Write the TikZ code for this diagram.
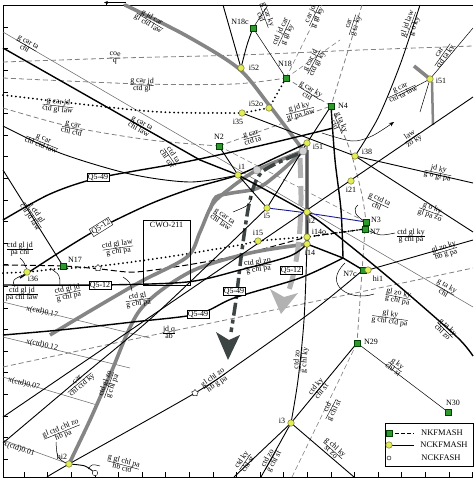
\documentclass[tikz,border=0pt]{standalone}
\usepackage{fontspec}
\setmainfont{Liberation Serif}
\usetikzlibrary{arrows.meta,shapes.geometric}
\newcommand{\rx}[2]{{\renewcommand{\arraystretch}{0.75}\setlength{\tabcolsep}{0pt}\begin{tabular}{c}#1\\\hline #2\end{tabular}}}
\definecolor{sqgreen}{HTML}{2E9A2E}
\definecolor{ycol}{HTML}{E2EE55}
\definecolor{gp}{HTML}{858585}
\definecolor{dgp}{HTML}{3C4444}
\definecolor{bl}{HTML}{1A1A90}
\tikzset{
 lb/.style={font=\fontsize{7.8}{8}\selectfont, inner sep=0.3pt},
 nm/.style={font=\fontsize{8}{8}\selectfont, inner sep=0.5pt},
 blk/.style={line width=0.9pt},
 thk/.style={line width=1.4pt},
 thn/.style={line width=0.5pt},
 tgray/.style={line width=0.55pt, draw=gray!85!black},
 gdash/.style={line width=0.8pt, draw=gray, dash pattern=on 5pt off 3pt},
 kdash/.style={line width=1pt, dash pattern=on 6pt off 3pt},
 dotl/.style={line width=2pt, dash pattern=on 0pt off 4.3pt, line cap=round},
 gpath/.style={line width=3.6pt, draw=gp},
 sq/.style={rectangle, draw=green!25!black, fill=sqgreen, minimum size=5.5pt, inner sep=0},
 yc/.style={circle, draw=olive!60!black, fill=ycol, minimum size=6.5pt, inner sep=0},
 oc/.style={circle, draw=black, fill=white, minimum size=5.5pt, inner sep=0},
 gc/.style={circle, draw=gray, fill=gray!35, minimum size=8pt, inner sep=0},
 qbox/.style={draw, fill=white, font=\fontsize{8}{8}\selectfont, inner sep=1pt},
 starm/.style={star, star points=5, draw, fill=white, minimum size=7pt, inner sep=0},
}
\begin{document}
\begin{tikzpicture}[x=1pt,y=-1pt]
\useasboundingbox (0,0) rectangle (474,479);
% frame
\draw[line width=0.8pt] (473,5) -- (3,5) -- (3,477) -- (473,477);
\foreach \k in {0,...,20} \draw[thn] (3,27+21.6*\k) -- (8,27+21.6*\k);
\foreach \k in {0,...,19} \draw[thn] (24+23.6*\k,477) -- (24+23.6*\k,472);
\draw[thn,-{Stealth[length=4pt,width=3pt]}] (126,2.5) -- (104,2.5);
\draw[thn] (106,2.5) -- (106,6);

% ---------- gray dashed lines
\draw[gdash] plot[smooth] coordinates {(3,62) (120,58) (240,55) (360,50) (473,46)};
\draw[gdash] plot[smooth] coordinates {(3,78) (142,84) (234,84) (286,78)};
\draw[gdash] plot[smooth] coordinates {(3,108) (72,127) (150,140) (219,146)};
\draw[gdash] (219,146) -- (331,106);
\draw[gdash,line width=0.6pt] (219,146) -- (366,222);
\draw[gdash] (286,78) -- (331,106);
\draw[gdash] (362,5) -- (331,106);
\draw[gdash] plot[smooth] coordinates {(331,106) (350,150) (362,195) (366,222)};
\draw[gdash] (365,229) -- (357,343);
\draw[gdash,line width=0.6pt] (357,343) -- (292,477);
\draw[gdash] plot[smooth] coordinates {(3,367) (120,342) (240,317) (360,292) (473,268)};
\draw[gdash,line width=0.6pt] (286,78) -- (322,5);
\draw[gdash,line width=0.6pt] (286,78) -- (340,40);

% ---------- thin gray lines
\draw[tgray] (3,32) -- (473,307);
\draw[tgray] (3,302) -- (150,338);
\draw[tgray] (3,337) -- (130,368);
\draw[tgray] (3,377) -- (97,405);
\draw[tgray] (3,440) -- (69,464);

% ---------- dotted lines
\draw[dotl] plot[smooth] coordinates {(3,95) (80,104) (160,112) (242,113)} -- (269,108) -- (286,78);
\draw[dotl] plot[smooth] coordinates {(3,273) (27,272) (57,269) (100,266) (167,257) (240,245) (258,241) (307,237)} -- (365,229);
\draw[kdash] plot[smooth] coordinates {(3,265) (63,266) (100,269) (135,272) (187,265) (240,255) (307,237)} -- (365,229);

% ---------- thick gray PT paths
\draw[gpath,line cap=round] plot[smooth] coordinates {(125,5) (185,35) (238,68) (269,105) (303,150)};
\draw[gpath] plot[smooth] coordinates {(50,335) (90,311) (140,282) (187,257) (200,232) (212,205) (228,190) (257,170) (303,151)};
\draw[gpath] plot[smooth] coordinates {(303,151) (280,172) (258,188) (232,193) (216,197) (210,210)};
\draw[gpath] plot[smooth] coordinates {(69,464) (90,420) (110,375) (140,310) (190,272) (250,253) (307,244)};
\draw[gpath] (307,244) -- (307,150);
\draw[gpath] (430,79) -- (414,66);
\draw[gpath,line width=2.5pt] (432,82) -- (433,125);
\draw[line width=5pt, draw=gray!60, dash pattern=on 20pt off 8pt] plot[smooth] coordinates {(300,158) (301,200) (299,240) (294,272) (288,293)};
\fill[gray!60] (270,289) -- (284,297) -- (298,293) -- (281,314) -- cycle;
\draw[line width=3.5pt, draw=dgp, dash pattern=on 13pt off 4pt on 4pt off 4pt] plot[smooth] coordinates {(298,154) (262,172) (250,200) (242,250) (236,300) (231,332)};
\fill[dgp] (216,332) -- (229,340) -- (240,335) -- (228,360) -- cycle;

% ---------- black lines
\draw[thk] (3,48) -- (200,160) -- (238,175);
\draw[thk] plot[smooth] coordinates {(238,175) (307,213) (343,240) (400,287) (457,337) (473,356)};
\draw[blk] plot[smooth] coordinates {(3,126) (60,153) (130,174) (190,182) (238,175)};
\draw[thk] plot[smooth] coordinates {(3,220) (50,194) (98,178) (180,163) (250,148) (313,133) (333,128)};
\draw[thk] plot[smooth] coordinates {(331,106) (335,160) (341,210) (343,258)};
\draw[thk] plot[smooth] coordinates {(343,258) (300,278) (234,298) (198,314) (133,322) (60,330) (3,335)};
\draw[thk] plot[smooth] coordinates {(20,278) (60,252) (100,228) (150,204) (193,188) (238,175) (275,158) (307,143)};
\draw[thk] plot[smooth] coordinates {(307,244) (290,256) (240,270) (187,282) (100,285) (3,285)};
\draw[thk] (307,244) -- (343,258) -- (363,270);
\draw[blk] (3,417) -- (473,97);
\draw[blk] plot[smooth] coordinates {(3,443) (80,378) (157,313) (267,208)};
\draw[blk] (267,208) -- (307,143);
\draw[blk] (238,175) -- (267,208);
\draw[blk] (219,146) -- (238,175);
\draw[blk] (3,170) -- (63,266);
\draw[blk] (331,106) -- (307,143);
\draw[blk] plot[smooth] coordinates {(307,143) (307,213) (307,244) (304,320) (298,380) (291,423)};
\draw[blk] plot[smooth] coordinates {(420,5) (400,65) (378,118) (355,156)};
\draw[blk] (242,113) -- (355,156) -- (473,183);
\draw[blk] (355,156) -- (473,232);
\draw[blk] plot[smooth] coordinates {(253,28) (247,45) (241,68)};
\draw[blk] (223,5) -- (241,68);
\draw[thn] (253,28) -- (286,78);
\draw[thn] (253,28) -- (268,5);
\draw[blk] plot[smooth] coordinates {(47,477) (69,464) (195,393) (240,363) (314,310) (363,270)};
\draw[blk] (368,270) -- (473,240);
\draw[blk] (291,423) -- (357,343);
\draw[thn] (357,343) -- (448,412);
\draw[blk] (291,423) -- (234,477);
\draw[blk] (291,423) -- (261,477);
\draw[blk] (291,423) -- (354,477);
\draw[blk] plot[smooth] coordinates {(69,464) (85,466) (95,473)};
\draw[draw=bl, line width=0.9pt] plot[smooth] coordinates {(267,208) (307,213) (366,222)};
\draw[thn] (430,79) -- (473,28);
\draw[thn] (430,79) -- (398,96);
\draw[thn] (430,79) -- (420,112);
\draw[thn,-{Stealth[length=5pt,width=4pt]}] plot[smooth] coordinates {(322,133) (352,141) (372,136) (394,122)};
% leaders
\draw[thn] (20,258) .. controls (24,262) .. (27,270);
\draw[thn] (15,287) .. controls (12,280) .. (25,274);
\draw[thn] (60,286) .. controls (60,275) .. (50,268);
\draw[thn] (132,291) .. controls (130,282) .. (123,277);
\draw[thn] (233,212) .. controls (250,205) .. (252,196);
\draw[thn] (56,442) .. controls (57,458) .. (66,463);
\draw[thn] (100,466) .. controls (92,464) .. (88,469);
\draw[thn] (366,222) .. controls (355,216) and (352,210) .. (358,205);
\draw[thn] (365,229) .. controls (380,236) .. (395,233);
\draw[thn] (345,263) .. controls (322,285) and (350,302) .. (374,294);

% ---------- boxes
\draw[thn] (143,220) rectangle (190,285);
\node[nm, anchor=north] (cwo) at (166.5,221) {CWO-211};
\node[qbox] (q1) at (98,177) {Q5-49};
\node[qbox] (q2) at (198,314) {Q5-49};
\node[qbox] (q3) at (234,291) {Q5-49};
\node[qbox, rotate=32] (q4) at (101,227) {Q5-12};
\node[qbox] (q5) at (100,285) {Q5-12};
\node[qbox] (q6) at (291,270) {Q5-12};

% ---------- reaction labels
\node[lb, rotate=-31] (t1) at (150,21) {\rx{g jd car}{gl ctd law}};
\node[lb, rotate=-2] (t2) at (115,58) {\rx{coe}{q}};
\node[lb, rotate=-30] (t3) at (26,46) {\rx{g car ta}{chl}};
\node[lb, rotate=-2] (t4) at (142,85) {\rx{g car jd}{ctd gl}};
\node[lb, rotate=-7] (t5) at (58,106) {\rx{g car jd}{ctd gl law}};
\node[lb, rotate=-12] (t6) at (72,129) {\rx{g car}{chl ctd}};
\node[lb, rotate=-29] (t7) at (140,127) {\rx{g car ta}{chl law}};
\node[lb, rotate=-22] (t8) at (42,143) {\rx{g car}{chl ctd law}};
\node[lb, rotate=-55] (t9) at (170,157) {\rx{ctd ta}{chl car}};
\node[lb, rotate=16] (t10) at (252,138) {\rx{g car}{ctd ta}};
\node[lb, rotate=15] (t11) at (300,111) {\rx{g jd ky}{gl pa law}};
\node[lb, rotate=-32] (t12) at (309,93) {\rx{g car ky}{ctd}};
\node[lb, rotate=62] (t13) at (314,62) {\rx{g car jd}{ctd gl ky}};
\node[lb, rotate=65] (t14) at (284,33) {\rx{ctd jd car}{g gl ky}};
\node[lb, rotate=65] (t15) at (314,16) {\rx{car jd}{g gl ky}};
\node[lb, rotate=-70] (t16) at (264,16) {\rx{g car ky}{ctd}};
\node[lb, rotate=72] (t17) at (353,25) {\rx{car}{g ta ky}};
\node[lb, rotate=70] (t18) at (411,25) {\rx{gl jd law}{g o ky}};
\node[lb, rotate=55] (t19) at (443,55) {\rx{car}{ctd ta ky}};
\node[lb, rotate=25] (t20) at (402,92) {\rx{g car}{ctd ta law}};
\node[lb, rotate=-68] (t21) at (338,124) {\rx{g ta ky}{ctd}};
\node[lb, rotate=34] (t22) at (412,138) {\rx{law}{zo ky}};
\node[lb, rotate=-12] (t23) at (438,173) {\rx{jd ky}{g o gl pa}};
\node[lb, rotate=-20] (t24) at (431,212) {\rx{g o ky}{gl pa zo}};
\node[lb, rotate=-25] (t25) at (378,203) {\rx{g ctd ta}{chl}};
\node[lb] (t26) at (411,236) {\rx{ctd gl ky}{g chl pa}};
\node[lb, rotate=17] (t27) at (445,251) {\rx{gl zo ky}{hb g pa}};
\node[lb, rotate=-30] (t28) at (445,290) {\rx{g ta ky}{chl}};
\node[lb, rotate=-45] (t29) at (445,330) {\rx{g ta ky}{chl zo}};
\node[lb, rotate=-12] (t30) at (398,297) {\rx{gl zo ky}{g chl pa}};
\node[lb, rotate=-8] (t31) at (390,318) {\rx{gl ky}{g chl ctd pa}};
\node[lb, rotate=-37] (t32) at (395,367) {\rx{g ky}{chl st}};
\node[lb, rotate=50] (t33) at (319,389) {\rx{ctd ky}{chl st}};
\node[lb, rotate=62] (t34) at (331,409) {\rx{ctd}{g chl st}};
\node[lb, rotate=85] (t35) at (301,360) {\rx{ctd zo}{g chl ky}};
\node[lb, rotate=-42] (t36) at (333,450) {\rx{g chl ky}{st zo}};
\node[lb, rotate=55] (t37) at (245,462) {\rx{ctd ky}{chl st}};
\node[lb, rotate=60] (t38) at (271,460) {\rx{ctd zo}{g chl st}};
\node[lb, rotate=35] (t39) at (215,381) {\rx{gl chl zo}{hb g pa}};
\node[lb, rotate=-15] (t40) at (123,465) {\rx{g gl chl pa}{hb ctd}};
\node[lb, rotate=22] (t41) at (62,432) {\rx{gl ctd chl zo}{hb pa}};
\node[lb, rotate=40] (t42) at (80,383) {\rx{car}{chl ctd ky}};
\node[lb, rotate=70] (t43) at (109,385) {\rx{ctd gl zo}{g chl pa}};
\node[lb] (t44) at (169,333) {\rx{jd q}{ab}};
\node[lb, rotate=8] (t45) at (258,266) {\rx{ctd gl zo}{g chl pa}};
\node[lb, rotate=-35] (t46) at (222,220) {\rx{g car ta}{chl law}};
\node[lb, rotate=8] (t47) at (118,248) {\rx{ctd gl law}{g chl pa}};
\node[lb, rotate=8] (t48) at (138,300) {\rx{ctd gl}{g chl pa}};
\node[lb] (t49) at (20,249) {\rx{ctd gl jd}{pa chl}};
\node[lb] (t50) at (22,294) {\rx{ctd gl jd}{pa chl law}};
\node[lb, rotate=12] (t51) at (68,293) {\rx{ctd gl jd}{g chl pa}};
\node[lb, rotate=-57] (t52) at (33,215) {\rx{g ctd gl}{chl jd law}};
\node[lb, rotate=-13] (x1) at (42,312) {x(ctd)0.17};
\node[lb, rotate=-13] (x2) at (42,345) {x(ctd)0.12};
\node[lb, rotate=-14] (x3) at (24,384) {x(ctd)0.07};
\node[lb, rotate=-18] (x4) at (19,449) {x(ctd)0.01};

% ---------- point markers
\node[sq] (N18c) at (253,28) {};
\node[sq] (N18) at (286,78) {};
\node[sq] (N4) at (331,106) {};
\node[sq] (N2) at (219,146) {};
\node[sq] (N3) at (366,222) {};
\node[sq] (N7) at (365,229) {};
\node[sq] (N7c) at (363,270) {};
\node[sq] (N29) at (357,343) {};
\node[sq] (N30) at (448,412) {};
\node[sq] (N17) at (63,266) {};
\node[yc] (i52) at (241,68) {};
\node[yc] (i52o) at (269,108) {};
\node[yc] (i35) at (242,113) {};
\node[yc] (i51) at (307,143) {};
\node[yc] (i51r) at (430,79) {};
\node[yc] (i38) at (355,156) {};
\node[yc] (i1) at (238,175) {};
\node[yc] (i5) at (267,208) {};
\node[yc] (i2) at (307,212) {};
\node[yc] (i14o) at (307,237) {};
\node[yc] (i14) at (307,244) {};
\node[yc] (i15) at (258,241) {};
\node[yc] (i21) at (351,181) {};
\node[yc] (hi1) at (368,270) {};
\node[yc] (i3) at (291,423) {};
\node[yc] (hi2) at (69,464) {};
\node[yc] (i36) at (27,272) {};
\node[gc] (gc1) at (257,170) {};
\node[gc] (gc2) at (303,151) {};
\node[oc] (oc1) at (95,473) {};
\node[starm] (s1) at (98,268) {};
\node[starm] (s2) at (195,393) {};

% point names
\node[nm] (nN18c) at (240,22) {N18c};
\node[nm] (nN18) at (285,64) {N18};
\node[nm] (nN4) at (343,106) {N4};
\node[nm] (nN2) at (219,137) {N2};
\node[nm] (nN3) at (376,220) {N3};
\node[nm] (nN7) at (375,232) {N7};
\node[nm] (nN7c) at (350,274) {N7c};
\node[nm] (nN29) at (371,342) {N29};
\node[nm] (nN30) at (453,403) {N30};
\node[nm] (nN17) at (75,260) {N17};
\node[nm] (ni52) at (254,68) {i52};
\node[nm] (ni52o) at (256,104) {i52o};
\node[nm] (ni35) at (238,122) {i35};
\node[nm] (ni51) at (318,147) {i51};
\node[nm] (ni51r) at (441,81) {i51};
\node[nm] (ni38) at (367,152) {i38};
\node[nm] (ni1) at (242,167) {i1};
\node[nm] (ni5) at (267,216) {i5};
\node[nm] (ni2) at (312,221) {i2};
\node[nm] (ni14o) at (319,232) {i14o};
\node[nm] (ni14) at (310,253) {i14};
\node[nm] (ni15) at (258,233) {i15};
\node[nm] (ni21) at (351,190) {i21};
\node[nm] (nhi1) at (378,279) {hi1};
\node[nm] (ni3) at (282,421) {i3};
\node[nm] (nhi2) at (62,457) {hi2};
\node[nm] (ni36) at (33,279) {i36};

% ---------- legend
\draw[thn, fill=white] (385,423) rectangle (473,466);
\draw[gdash, draw=black, dash pattern=on 4pt off 2pt] (389,433) -- (414,433);
\node[sq] (lg1) at (389,433) {};
\node[nm, font=\fontsize{8.5}{9}\selectfont] (lt1) at (442,433) {NKFMASH};
\draw[blk] (389,445) -- (414,445);
\node[yc] (lg2) at (389,445) {};
\node[nm, font=\fontsize{8.5}{9}\selectfont] (lt2) at (444,445) {NCKFMASH};
\node[oc, minimum size=4pt] (lg3) at (389,458) {};
\node[nm, font=\fontsize{8.5}{9}\selectfont] (lt3) at (441,458) {NCKFASH};
\end{tikzpicture}
\end{document}
